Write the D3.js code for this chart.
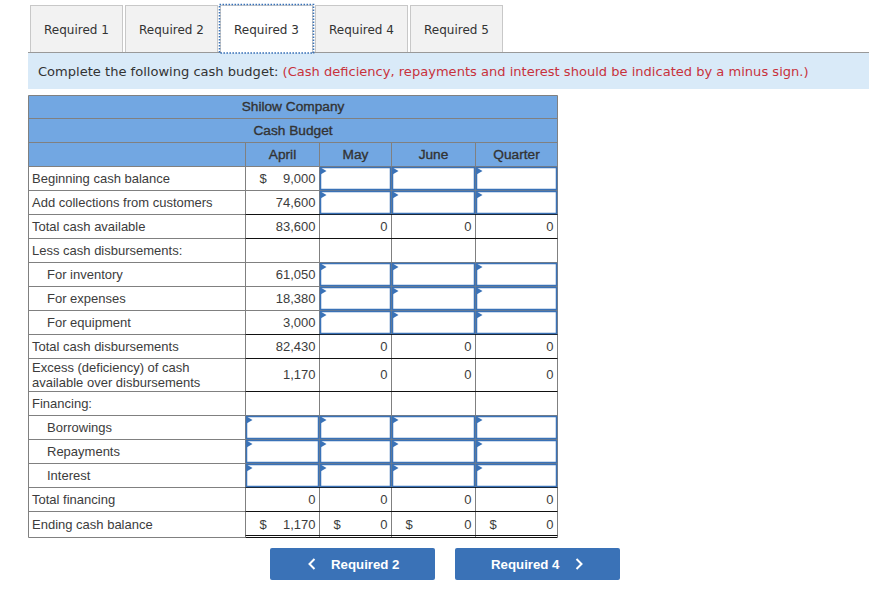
<!DOCTYPE html>
<html>
<head>
<meta charset="utf-8">
<script src="https://cdn.jsdelivr.net/npm/d3@7"></script>
<style>
	html, body { margin: 0; padding: 0; background: #fff; }
	svg { display: block; }
	.tbl { font-family: "Liberation Sans", Arial, sans-serif; font-size: 13px; fill: #3c3c3c; }
	.hd { font-size: 13.7px; fill: #333; stroke: #333; stroke-width: 0.35; }
	.ver { font-family: "DejaVu Sans", Verdana, sans-serif; font-size: 12px; }
</style>
</head>
<body>
<script>
// chart values
var tabs = ["Required 1", "Required 2", "Required 3", "Required 4", "Required 5"];
var activeTab = "Required 3";
var titles = ["Shilow Company", "Cash Budget"];
var columns = ["April", "May", "June", "Quarter"];
var rowLabels = [
	["Beginning cash balance"],
	["Add collections from customers"],
	["Total cash available"],
	["Less cash disbursements:"],
	["For inventory"],
	["For expenses"],
	["For equipment"],
	["Total cash disbursements"],
	["Excess (deficiency) of cash", "available over disbursements"],
	["Financing:"],
	["Borrowings"],
	["Repayments"],
	["Interest"],
	["Total financing"],
	["Ending cash balance"]
];
// "in" = answer box, "" = empty cell
var april = ["9,000", "74,600", "83,600", "", "61,050", "18,380", "3,000", "82,430", "1,170", "", "in", "in", "in", "0", "1,170"];
var may = ["in", "in", "0", "", "in", "in", "in", "0", "0", "", "in", "in", "in", "0", "0"];
var june = ["in", "in", "0", "", "in", "in", "in", "0", "0", "", "in", "in", "in", "0", "0"];
var quarter = ["in", "in", "0", "", "in", "in", "in", "0", "0", "", "in", "in", "in", "0", "0"];
var dollarRows = { April: [0, 14], May: [14], June: [14], Quarter: [14] };
var indented = [4, 5, 6, 10, 11, 12];
var blackTop = [2, 3, 7, 8, 9, 13, 14];
var buttons = [
	{ label: "Required 2", dir: "prev" },
	{ label: "Required 4", dir: "next" }
];

var series = { April: april, May: may, June: june, Quarter: quarter };

// layout
var grey = "#808080", blue = "#3a72b7", head = "#72a7e2", ink = "#333";
var colX = d3.scaleOrdinal().domain(["label"].concat(columns).concat(["end"])).range([28.5, 245.5, 319.5, 391.5, 475.5, 557.5]);
var nextCol = function(c) { return c == "Quarter" ? "end" : columns[columns.indexOf(c) + 1]; };
var rowEdges = [166, 190, 214, 238, 262, 286, 310, 334, 358, 391, 415, 439, 463, 487, 511, 537];
var rowY = d3.scaleOrdinal().domain(d3.range(16)).range(rowEdges.map(function(d) { return d + 0.5; }));
var midY = function(i) { return (rowY(i) + rowY(i + 1)) / 2 + 4.4; };
var tabX = d3.scaleBand().domain(tabs).range([30, 505]);

var svg = d3.select("body").append("svg")
	.attr("width", 869)
	.attr("height", 612);

// tabs
svg.selectAll("rect.tab")
	.data(tabs)
	.enter()
		.append("rect")
		.attr("class", "tab")
		.attr("x", function(d) { return tabX(d) + 0.5; })
		.attr("y", 5.5)
		.attr("width", 92)
		.attr("height", 47)
		.attr("fill", function(d) { return d == activeTab ? "#fff" : "#f2f2f2"; })
		.attr("stroke", "#c8c8c8");

svg.append("rect")
	.attr("x", 28).attr("y", 53)
	.attr("width", 841).attr("height", 36)
	.attr("fill", "#d9eaf8");
svg.append("line")
	.attr("x1", 28).attr("x2", 869)
	.attr("y1", 52.5).attr("y2", 52.5)
	.attr("stroke", "#999");

// white patch under active tab, then the dotted focus ring
svg.append("rect")
	.attr("x", tabX(activeTab) + 1).attr("y", 6)
	.attr("width", 91).attr("height", 47)
	.attr("fill", "#fff");
svg.append("rect")
	.attr("x", tabX(activeTab) - 0.5).attr("y", 4.5)
	.attr("width", 94).attr("height", 48.5)
	.attr("fill", "none")
	.attr("stroke", blue)
	.attr("stroke-width", 1.6)
	.attr("stroke-dasharray", "1.6 1.4");

svg.selectAll("text.tabtxt")
	.data(tabs)
	.enter()
		.append("text")
		.attr("class", "ver")
		.attr("x", function(d) { return tabX(d) + 46.5; })
		.attr("y", 34)
		.attr("text-anchor", "middle")
		.attr("fill", ink)
		.text(function(d) { return d; });

var note = svg.append("text")
	.attr("class", "ver")
	.attr("x", 38)
	.attr("y", 76)
	.style("font-size", "13.05px")
	.attr("fill", ink);
note.append("tspan").text("Complete the following cash budget: ");
note.append("tspan").attr("fill", "#c8323c").text("(Cash deficiency, repayments and interest should be indicated by a minus sign.)");

// table header
svg.append("rect")
	.attr("x", colX("label")).attr("y", 95.5)
	.attr("width", colX("end") - colX("label")).attr("height", rowY(0) - 95.5)
	.attr("fill", head);

svg.selectAll("line.head")
	.data([95.5, 118.5, 142.5])
	.enter()
		.append("line")
		.attr("x1", colX("label"))
		.attr("x2", colX("end"))
		.attr("y1", function(d) { return d; })
		.attr("y2", function(d) { return d; })
		.attr("stroke", grey);

svg.selectAll("text.title")
	.data(titles)
	.enter()
		.append("text")
		.attr("class", "tbl hd")
		.attr("x", (colX("label") + colX("end")) / 2)
		.attr("y", function(d, i) { return 111 + i * 24; })
		.attr("text-anchor", "middle")
		.text(function(d) { return d; });

svg.selectAll("text.col")
	.data(columns)
	.enter()
		.append("text")
		.attr("class", "tbl hd")
		.attr("x", function(d) { return (colX(d) + colX(nextCol(d))) / 2; })
		.attr("y", 159)
		.attr("text-anchor", "middle")
		.text(function(d) { return d; });

// row labels and grid
var rows = svg.selectAll("g.row")
	.data(rowLabels)
	.enter()
		.append("g")
		.attr("class", "row");

rows.append("line")
	.attr("x1", colX("label"))
	.attr("x2", colX("end"))
	.attr("y1", function(d, i) { return rowY(i); })
	.attr("y2", function(d, i) { return rowY(i); })
	.attr("stroke", grey);

rows.each(function(d, i) {
	var lx = indented.indexOf(i) >= 0 ? 47 : 32;
	d3.select(this).selectAll("text")
		.data(d)
		.enter()
			.append("text")
			.attr("class", "tbl")
			.attr("x", lx)
			.attr("y", function(t, k) { return midY(i) + (k - (d.length - 1) / 2) * 15; })
			.text(function(t) { return t; });
});

svg.append("line")
	.attr("x1", colX("label")).attr("x2", colX("label"))
	.attr("y1", 95.5).attr("y2", 537.5)
	.attr("stroke", grey);
svg.append("line")
	.attr("x1", colX("label")).attr("x2", colX("April"))
	.attr("y1", 537.5).attr("y2", 537.5)
	.attr("stroke", grey);

svg.selectAll("line.vert")
	.data(["April", "May", "June", "Quarter", "end"])
	.enter()
		.append("line")
		.attr("x1", function(d) { return colX(d); })
		.attr("x2", function(d) { return colX(d); })
		.attr("y1", function(d) { return d == "end" ? 95.5 : 142.5; })
		.attr("y2", 537)
		.attr("stroke", grey);

// black total rules
svg.selectAll("line.total")
	.data(blackTop.map(function(d) { return rowY(d); }).concat([535.5, 537.5]))
	.enter()
		.append("line")
		.attr("x1", colX("April"))
		.attr("x2", colX("end"))
		.attr("y1", function(d) { return d; })
		.attr("y2", function(d) { return d; })
		.attr("stroke", "#111");

// value cells
columns.forEach(function(col) {
	var g = svg.append("g").attr("class", "col-" + col);
	var vals = series[col].map(function(v, i) { return { v: v, i: i }; });
	var right = colX(nextCol(col));
	var left = colX(col);

	g.selectAll("text.val")
		.data(vals.filter(function(d) { return d.v != "in" && d.v != ""; }))
		.enter()
			.append("text")
			.attr("class", "tbl")
			.attr("x", right - 4)
			.attr("y", function(d) { return midY(d.i); })
			.attr("text-anchor", "end")
			.text(function(d) { return d.v; });

	g.selectAll("text.usd")
		.data(dollarRows[col])
		.enter()
			.append("text")
			.attr("class", "tbl")
			.attr("x", left + 17.5)
			.attr("y", function(d) { return midY(d); })
			.attr("text-anchor", "middle")
			.text("$");

	var boxes = vals.filter(function(d) { return d.v == "in"; });
	g.selectAll("rect.box")
		.data(boxes)
		.enter()
			.append("rect")
			.attr("x", left + 1)
			.attr("y", function(d) { return rowY(d.i) + 1; })
			.attr("width", right - left - 2)
			.attr("height", function(d) { return rowY(d.i + 1) - rowY(d.i) - 2; })
			.attr("fill", "#fff")
			.attr("stroke", blue)
			.attr("stroke-width", 1.5);
	g.selectAll("path.flag")
		.data(boxes)
		.enter()
			.append("path")
			.attr("d", function(d) {
				var x = left + 1, y = rowY(d.i) + 1;
				return d3.line()([[x, y], [x + 6, y + 3.5], [x, y + 7]]) + "Z";
			})
			.attr("fill", blue);
});

// nav buttons
var btnX = d3.scaleOrdinal().domain(buttons.map(function(d) { return d.label; })).range([270, 455]);
var btn = svg.selectAll("g.btn")
	.data(buttons)
	.enter()
		.append("g")
		.attr("class", "btn");

btn.append("rect")
	.attr("x", function(d) { return btnX(d.label); })
	.attr("y", 548)
	.attr("width", 165)
	.attr("height", 32)
	.attr("rx", 2)
	.attr("fill", blue);

btn.append("text")
	.attr("class", "tbl")
	.attr("x", function(d) { return btnX(d.label) + (d.dir == "prev" ? 61 : 36); })
	.attr("y", 569)
	.style("fill", "#fff")
	.style("font-size", "13.25px")
	.style("font-weight", "bold")
	.text(function(d) { return d.label; });

btn.append("path")
	.attr("d", function(d) {
		var cx = btnX(d.label) + (d.dir == "prev" ? 42 : 124), s = d.dir == "prev" ? 1 : -1;
		return d3.line()([[cx + 2.5 * s, 559], [cx - 2.5 * s, 564], [cx + 2.5 * s, 569]]);
	})
	.attr("fill", "none")
	.attr("stroke", "#fff")
	.attr("stroke-width", 2);
</script>
</body>
</html>
